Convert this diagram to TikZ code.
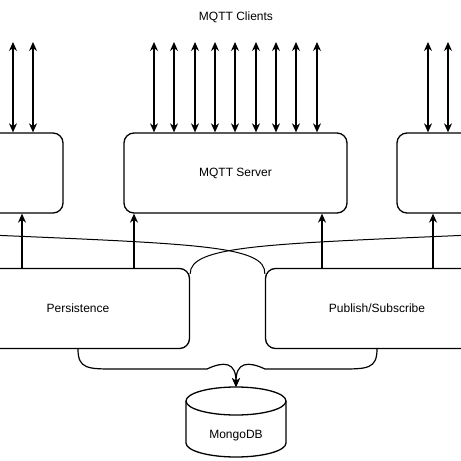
\documentclass[tikz,border=0pt]{standalone}
\usepackage{fontspec}
\setmainfont{Liberation Sans}
\usetikzlibrary{arrows.meta}

\begin{document}
\begin{tikzpicture}[x=1pt, y=-1pt,
    every node/.style={font=\fontsize{12}{14}\selectfont},
    box/.style={rectangle, rounded corners=10pt, draw, line width=1.3pt, minimum width=223pt, minimum height=80pt, inner sep=0pt},
    arrow/.style={-{Stealth[length=9pt, width=8pt]}, line width=1.2pt},
    dbl/.style={{Stealth[length=9pt, width=8pt]}-{Stealth[length=9pt, width=8pt]}, line width=1.2pt},
    link/.style={line width=1pt}]

  \clip (0,0) rectangle (461,461);
  \fill[white] (0,0) rectangle (461,461);

  % servers and back ends
  \node (title) at (236,17) {MQTT Clients};
  \node[box] (srvl) at (-48.5,173) {};
  \node[box] (srv) at (235.5,173) {MQTT Server};
  \node[box] (srvr) at (508.5,173) {};
  \node[box] (pers) at (78,308.5) {Persistence};
  \node[box] (pubsub) at (377,308.5) {Publish/Subscribe};

  % client connections
  \foreach \x in {13,33,154,174,195,215,235,256,276,296,317,428,448} {
    \coordinate (cl\x) at (\x,42);
  }
  \foreach \x in {13,33} \draw[dbl] (cl\x) -- (cl\x |- srvl.north);
  \foreach \x in {154,174,195,215,235,256,276,296,317} \draw[dbl] (cl\x) -- (cl\x |- srv.north);
  \foreach \x in {428,448} \draw[dbl] (cl\x) -- (cl\x |- srvr.north);

  % back ends up to servers
  \draw[arrow] (22,0 |- pers.north) -- (22,0 |- srvl.south);
  \draw[arrow] (134,0 |- pers.north) -- (134,0 |- srv.south);
  \draw[arrow] (322,0 |- pubsub.north) -- (322,0 |- srv.south);
  \draw[arrow] (433,0 |- pubsub.north) -- (433,0 |- srvr.south);

  % crossing links
  \coordinate (offl) at (-10,235);
  \coordinate (offr) at (471,235);
  \draw[link] (offl) .. controls (200,244) and (266,246) .. ([yshift=-6pt]pubsub.north west);
  \draw[link] (offr) .. controls (262,244) and (190,246) .. ([yshift=-6pt]pers.north east);

  % database
  \fill[white] (186,401) -- (186,443) arc[start angle=180, end angle=360, x radius=50pt, y radius=14pt] -- (286,401) -- cycle;
  \draw[line width=1.3pt] (186,401) -- (186,443) arc[start angle=180, end angle=360, x radius=50pt, y radius=14pt] -- (286,401);
  \draw[line width=1.3pt] (236,401) ellipse [x radius=50pt, y radius=14pt];
  \node (db) at (236,436) {MongoDB};
  \coordinate (dbtop) at (236,387);

  \draw[arrow] (pers.south) .. controls (78,369) and (88,369) .. (115,369) -- (207,369) .. controls (224,361) and (236,362) .. (dbtop);
  \draw[arrow] (pubsub.south) .. controls (377,369) and (367,369) .. (340,369) -- (265,369) .. controls (248,361) and (236,362) .. (dbtop);
\end{tikzpicture}
\end{document}
